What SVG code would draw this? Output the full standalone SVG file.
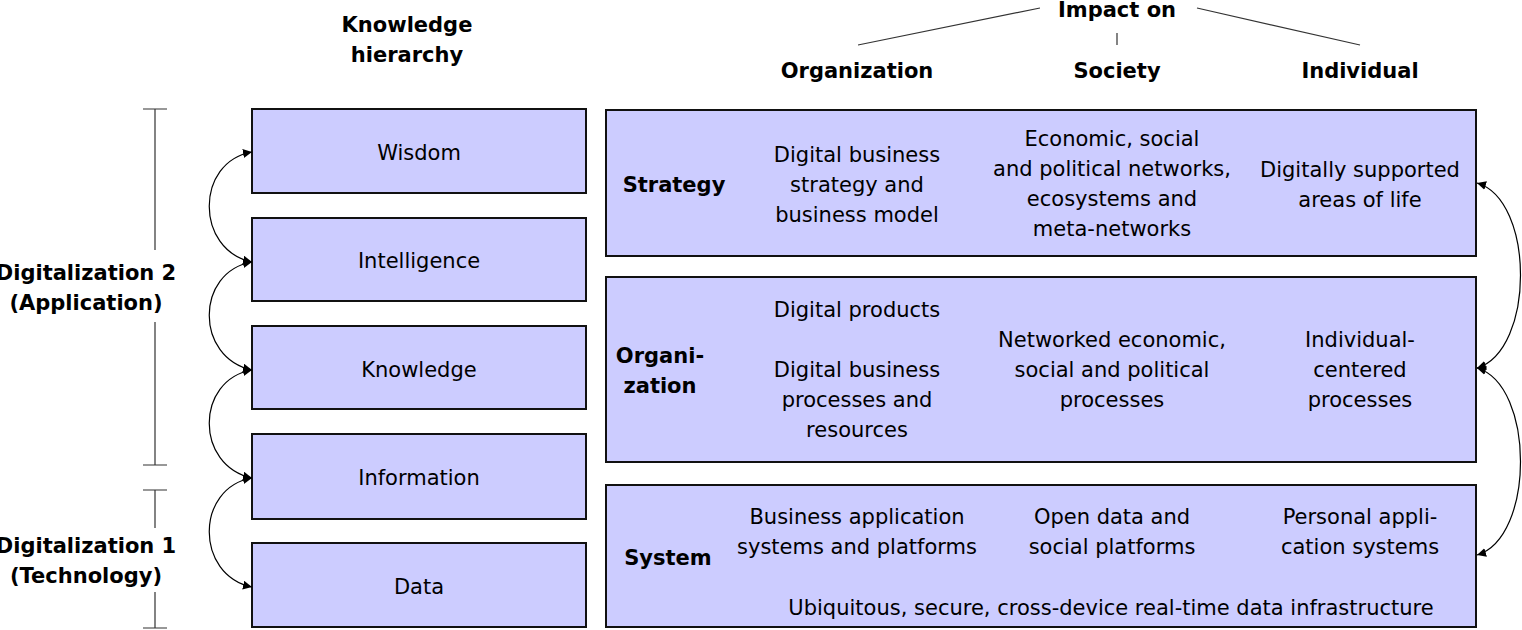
<svg xmlns="http://www.w3.org/2000/svg" width="1522" height="630" viewBox="0 0 1522 630">
<style>
text{font-family:"DejaVu Sans","Liberation Sans",Arial,sans-serif;font-size:21px;fill:#000;text-anchor:middle}
.b{font-weight:bold;font-size:21px}
.box{fill:#ccccff;stroke:#111;stroke-width:2}
.ln{stroke:#333;stroke-width:1.2;fill:none}
.arc{stroke:#000;stroke-width:1.2;fill:none;marker-start:url(#ah);marker-end:url(#ah)}
</style>
<defs><marker id="ah" viewBox="0 0 10 10" refX="10" refY="5" markerWidth="9" markerHeight="9" orient="auto-start-reverse" markerUnits="userSpaceOnUse"><path d="M0,0L10,5L0,10z" fill="#000"/></marker></defs>
<rect width="1522" height="630" fill="#fff"/>
<text class="b" x="407" y="32">Knowledge</text>
<text class="b" x="407" y="62">hierarchy</text>
<text class="b" x="1117" y="17">Impact on</text>
<text class="b" x="857" y="78">Organization</text>
<text class="b" x="1117" y="78">Society</text>
<text class="b" x="1360" y="78">Individual</text>
<g id="scale">
<path class="ln" d="M143,109H167M155,109V250M155,322V465M143,465H167M143,490H167M155,490V528M155,592V628M143,628H167"/>
<path class="ln" d="M858,45L1040,8M1117,33V45M1197,8L1360,45"/>
<text class="b" x="86" y="280">Digitalization 2</text>
<text class="b" x="86" y="310">(Application)</text>
<text class="b" x="86" y="553">Digitalization 1</text>
<text class="b" x="86" y="583">(Technology)</text>
</g>
<g id="wisdom"><rect class="box" x="252" y="109" width="334" height="84"/><text x="419" y="160">Wisdom</text></g>
<g id="intelligence"><rect class="box" x="252" y="218" width="334" height="83"/><text x="419" y="268">Intelligence</text></g>
<g id="knowledge"><rect class="box" x="252" y="326" width="334" height="83"/><text x="419" y="377">Knowledge</text></g>
<g id="information"><rect class="box" x="252" y="434" width="334" height="85"/><text x="419" y="485">Information</text></g>
<g id="data"><rect class="box" x="252" y="543" width="334" height="84"/><text x="419" y="594">Data</text></g>
<g id="strategy"><rect class="box" x="606" y="110" width="870" height="146"/>
<text class="b" x="674" y="192">Strategy</text>
<text x="857" y="162">Digital business</text><text x="857" y="192">strategy and</text><text x="857" y="222">business model</text>
<text x="1112" y="146">Economic, social</text><text x="1112" y="176">and political networks,</text><text x="1112" y="206">ecosystems and</text><text x="1112" y="236">meta-networks</text>
<text x="1360" y="177">Digitally supported</text><text x="1360" y="207">areas of life</text></g>
<g id="organization"><rect class="box" x="606" y="277" width="870" height="185"/>
<text class="b" x="660" y="363">Organi-</text><text class="b" x="660" y="393">zation</text>
<text x="857" y="317">Digital products</text>
<text x="857" y="377">Digital business</text><text x="857" y="407">processes and</text><text x="857" y="437">resources</text>
<text x="1112" y="347">Networked economic,</text><text x="1112" y="377">social and political</text><text x="1112" y="407">processes</text>
<text x="1360" y="347">Individual-</text><text x="1360" y="377">centered</text><text x="1360" y="407">processes</text></g>
<g id="system"><rect class="box" x="606" y="485" width="870" height="142"/>
<text class="b" x="668" y="565">System</text>
<text x="857" y="524">Business application</text><text x="857" y="554">systems and platforms</text>
<text x="1112" y="524">Open data and</text><text x="1112" y="554">social platforms</text>
<text x="1360" y="524">Personal appli-</text><text x="1360" y="554">cation systems</text>
<text x="1111" y="615">Ubiquitous, secure, cross-device real-time data infrastructure</text></g>
<g id="connectors">
<path class="arc" d="M252,152C195,162 195,250 252,262"/>
<path class="arc" d="M252,262C195,272 195,358 252,370"/>
<path class="arc" d="M252,370C195,380 195,466 252,478"/>
<path class="arc" d="M252,478C195,488 195,575 252,587"/>
<path class="arc" d="M1477,183C1535,200 1535,350 1477,368"/>
<path class="arc" d="M1477,368C1535,385 1535,538 1477,555"/>
</g>
</svg>
